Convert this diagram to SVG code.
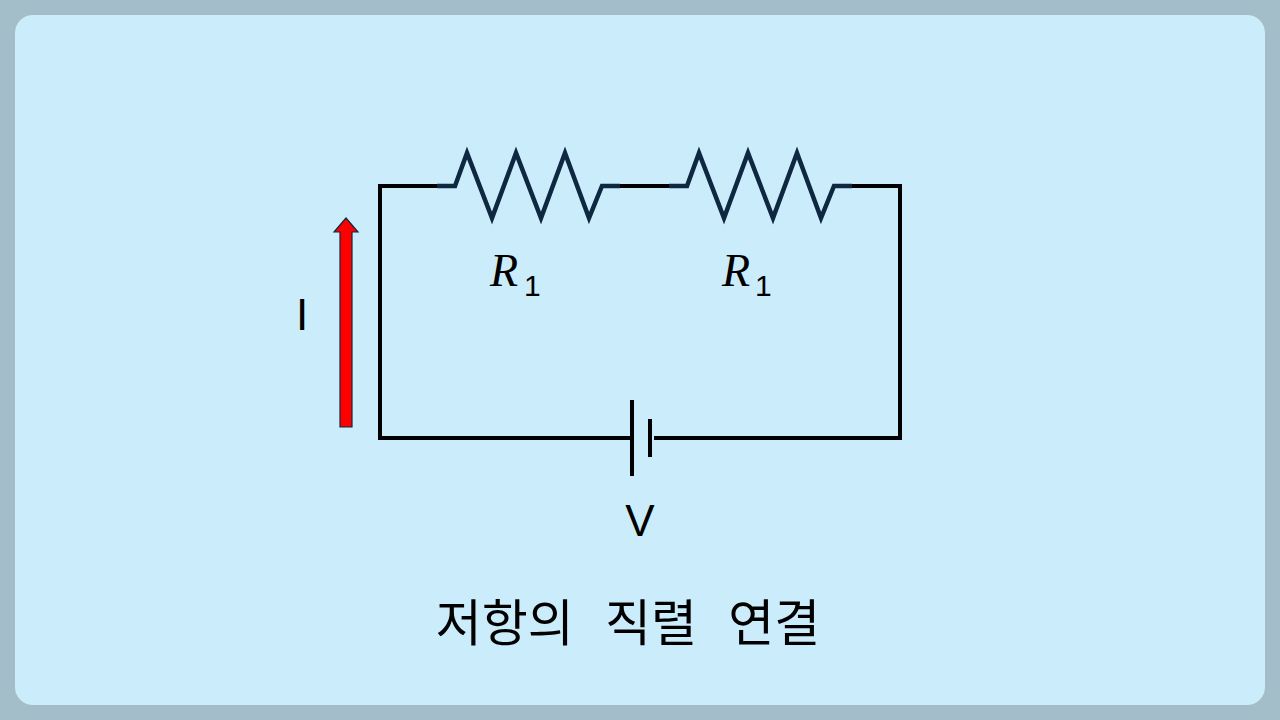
<svg xmlns="http://www.w3.org/2000/svg" width="1280" height="720" viewBox="0 0 1280 720">
<style>
.w{fill:none;stroke:#000;stroke-width:4}
.r{fill:none;stroke:#0e2841;stroke-width:4.5;stroke-linejoin:miter}
.t{font-family:"Liberation Sans","Noto Sans CJK KR",sans-serif;fill:#000}
.k{font-family:"Noto Sans CJK KR",sans-serif;fill:#000}
.m{font-family:"Liberation Serif",serif;font-style:italic;fill:#000}
</style>
<rect width="1280" height="720" fill="#a3bdc9"/>
<rect x="15" y="15" width="1250" height="690" rx="18" fill="#cbedfb"/>
<g id="connectors">
<path class="w" d="M437 186H380V438H630M654 438H900V186H837M620 186H687"/>
</g>
<g id="R1a"><path class="r" d="M437 186H455L467 153L492 218L516 153L541 218L565 153L589 218L602 186H620"/>
<text class="m" x="490" y="286" font-size="46">R</text><text class="t" x="524" y="296" font-size="30">1</text></g>
<g id="R1b"><path class="r" d="M669 186H687L699 153L724 218L748 153L773 218L797 153L821 218L834 186H852"/>
<text class="m" x="722" y="286" font-size="46">R</text><text class="t" x="755" y="296" font-size="30">1</text></g>
<g id="battery"><path class="w" d="M632 400V476M650 419V457"/>
<text class="t" x="640" y="536" font-size="44" text-anchor="middle">V</text></g>
<g id="arrow"><path d="M340 427V232H334L346 218L358 232H352V427Z" fill="#f00" stroke="#0e2841" stroke-width="1.2"/>
<text class="t" x="302" y="330" font-size="44" text-anchor="middle">I</text></g>
<g id="title"><text class="k" x="628" y="641" font-size="50" text-anchor="middle" word-spacing="20">저항의 직렬 연결</text></g>
</svg>
